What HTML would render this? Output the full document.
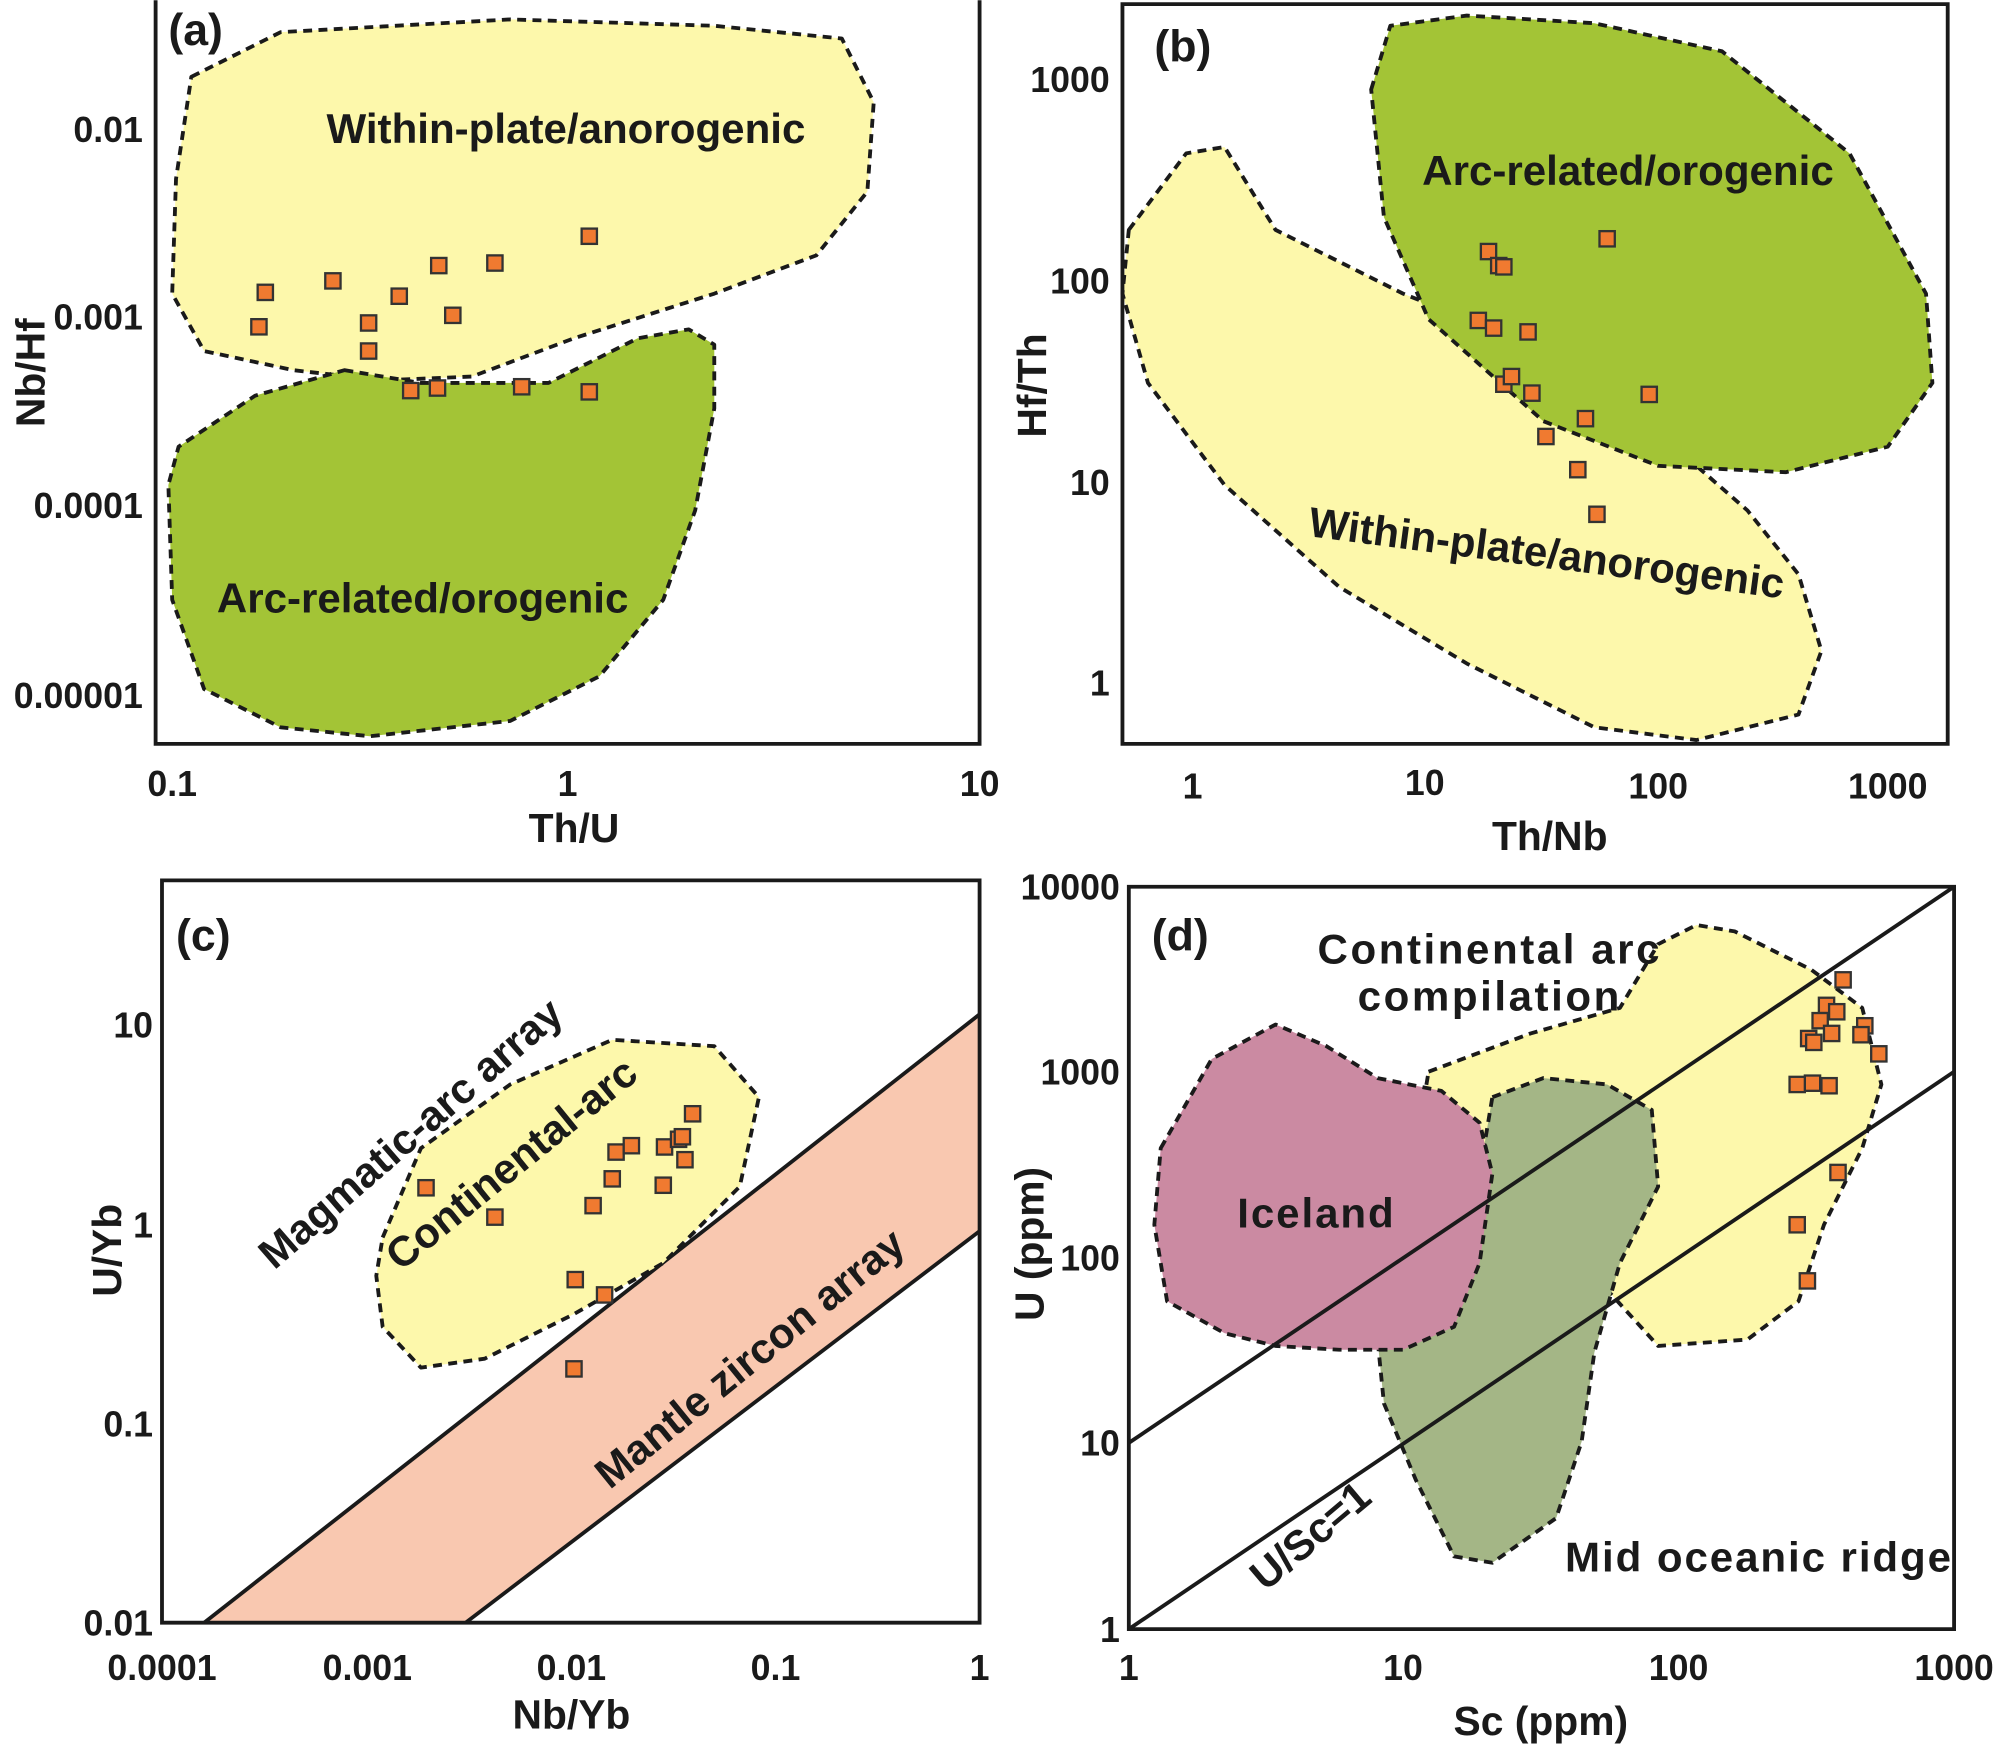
<!DOCTYPE html>
<html><head><meta charset="utf-8"><style>
html,body{margin:0;padding:0;background:#fff}
svg{display:block}
text{font-family:"Liberation Sans",Arial,sans-serif;font-weight:bold;fill:#1a1a1a}
.ax{fill:none;stroke:#1a1a1a;stroke-width:3}
.dash{stroke:#1a1a1a;stroke-width:3;stroke-dasharray:7,5;stroke-linejoin:round}
.m{fill:#f07a30;stroke:#333;stroke-width:1.8}
.t{font-size:28px}
.l{font-size:33px}
.lab{font-size:32px}
</style></head><body>
<svg width="2000" height="1748" viewBox="0 0 1568 1370" xmlns="http://www.w3.org/2000/svg">
<!-- Panel a -->
<polygon class="dash" fill="#fdf8ab" points="150,60 220,25 400,15 560,20 660,30 685,80 680,150 640,200 560,230 450,265 370,295 300,298 230,290 160,275 135,230 138,140"/>
<polygon class="dash" fill="#a3c436" points="270,290 330,300 430,300 500,265 540,258 560,270 560,320 545,400 520,470 470,530 400,565 290,577 220,570 160,540 135,470 132,380 140,350 200,310"/>
<path class="ax" d="M122,0 V583 H768 V0"/>
<text x="256" y="112" class="l">Within-plate/anorogenic</text>
<text x="170" y="480" class="l">Arc-related/orogenic</text>
<text x="132" y="35" class="lab" style="font-size:35px">(a)</text>
<g class="t" text-anchor="end"><text x="112" y="111">0.01</text><text x="112" y="258">0.001</text><text x="112" y="406">0.0001</text><text x="112" y="555">0.00001</text></g>
<g class="t" text-anchor="middle"><text x="135" y="624">0.1</text><text x="445" y="624">1</text><text x="768" y="624">10</text></g>
<text x="450" y="660" class="lab" text-anchor="middle">Th/U</text>
<text transform="translate(35,292) rotate(-90)" class="lab" text-anchor="middle">Nb/Hf</text>
<g><rect class="m" x="197" y="250" width="12" height="12"/><rect class="m" x="202" y="223" width="12" height="12"/><rect class="m" x="255" y="214" width="12" height="12"/><rect class="m" x="283" y="247" width="12" height="12"/><rect class="m" x="283" y="269" width="12" height="12"/><rect class="m" x="307" y="226" width="12" height="12"/><rect class="m" x="338" y="202" width="12" height="12"/><rect class="m" x="349" y="241" width="12" height="12"/><rect class="m" x="382" y="200" width="12" height="12"/><rect class="m" x="456" y="179" width="12" height="12"/><rect class="m" x="316" y="300" width="12" height="12"/><rect class="m" x="337" y="298" width="12" height="12"/><rect class="m" x="403" y="297" width="12" height="12"/><rect class="m" x="456" y="301" width="12" height="12"/></g>
<!-- Panel b -->
<polygon class="dash" fill="#fdf8ab" points="885,180 930,120 960,115 1000,180 1100,230 1200,270 1290,330 1370,400 1410,450 1428,510 1410,560 1330,580 1250,570 1150,520 1050,460 960,380 900,300 880,230"/>
<polygon class="dash" fill="#a3c436" points="1075,70 1090,20 1150,12 1250,18 1350,40 1450,120 1510,230 1515,300 1480,350 1400,370 1300,365 1210,330 1120,250 1085,170"/>
<path class="ax" d="M880,3 V583 H1527 V3 Z"/>
<text x="1115" y="145" class="l">Arc-related/orogenic</text>
<text transform="translate(1025,420) rotate(7.5)" class="l">Within-plate/anorogenic</text>
<text x="905" y="48" class="lab" style="font-size:35px">(b)</text>
<g class="t" text-anchor="end"><text x="870" y="72">1000</text><text x="870" y="230">100</text><text x="870" y="388">10</text><text x="870" y="545">1</text></g>
<g class="t" text-anchor="middle"><text x="935" y="626">1</text><text x="1117" y="623">10</text><text x="1300" y="626">100</text><text x="1480" y="626">1000</text></g>
<text x="1215" y="666" class="lab" text-anchor="middle">Th/Nb</text>
<text transform="translate(820,302) rotate(-90)" class="lab" text-anchor="middle">Hf/Th</text>
<g><rect class="m" x="1161" y="191" width="12" height="12"/><rect class="m" x="1169" y="202" width="12" height="12"/><rect class="m" x="1173" y="203" width="12" height="12"/><rect class="m" x="1254" y="181" width="12" height="12"/><rect class="m" x="1153" y="245" width="12" height="12"/><rect class="m" x="1165" y="251" width="12" height="12"/><rect class="m" x="1192" y="254" width="12" height="12"/><rect class="m" x="1173" y="295" width="12" height="12"/><rect class="m" x="1179" y="289" width="12" height="12"/><rect class="m" x="1195" y="302" width="12" height="12"/><rect class="m" x="1287" y="303" width="12" height="12"/><rect class="m" x="1206" y="336" width="12" height="12"/><rect class="m" x="1237" y="322" width="12" height="12"/><rect class="m" x="1231" y="362" width="12" height="12"/><rect class="m" x="1246" y="397" width="12" height="12"/></g>
<!-- Panel c -->
<polygon fill="#f9c8b0" points="160,1272 768,795 768,965 365,1272"/>
<line x1="160" y1="1272" x2="768" y2="795" stroke="#1a1a1a" stroke-width="3"/>
<line x1="365" y1="1272" x2="768" y2="965" stroke="#1a1a1a" stroke-width="3"/>
<polygon class="dash" fill="#fdf8ab" points="300,970 330,900 400,850 480,815 560,820 595,860 580,930 520,990 450,1030 380,1065 330,1072 300,1040 295,1000"/>
<path class="ax" d="M127,690 V1272 H768 V690 Z"/>
<text transform="translate(215,996) rotate(-41)" class="l">Magmatic-arc array</text>
<text transform="translate(314,997) rotate(-39)" class="l">Continental-arc</text>
<text transform="translate(478,1168) rotate(-39)" class="l">Mantle zircon array</text>
<text x="138" y="745" class="lab" style="font-size:35px">(c)</text>
<g class="t" text-anchor="end"><text x="120" y="813">10</text><text x="120" y="970">1</text><text x="120" y="1126">0.1</text><text x="120" y="1282">0.01</text></g>
<g class="t" text-anchor="middle"><text x="127" y="1317">0.0001</text><text x="288" y="1317">0.001</text><text x="448" y="1317">0.01</text><text x="608" y="1317">0.1</text><text x="768" y="1317">1</text></g>
<text x="448" y="1355" class="lab" text-anchor="middle">Nb/Yb</text>
<text transform="translate(95,980) rotate(-90)" class="lab" text-anchor="middle">U/Yb</text>
<g><rect class="m" x="328" y="925" width="12" height="12"/><rect class="m" x="382" y="948" width="12" height="12"/><rect class="m" x="459" y="939" width="12" height="12"/><rect class="m" x="474" y="918" width="12" height="12"/><rect class="m" x="477" y="897" width="12" height="12"/><rect class="m" x="489" y="892" width="12" height="12"/><rect class="m" x="515" y="893" width="12" height="12"/><rect class="m" x="526" y="887" width="12" height="12"/><rect class="m" x="537" y="867" width="12" height="12"/><rect class="m" x="529" y="885" width="12" height="12"/><rect class="m" x="531" y="903" width="12" height="12"/><rect class="m" x="514" y="923" width="12" height="12"/><rect class="m" x="445" y="997" width="12" height="12"/><rect class="m" x="468" y="1009" width="12" height="12"/><rect class="m" x="444" y="1067" width="12" height="12"/></g>
<!-- Panel d -->
<polygon class="dash" fill="#fdf8ab" points="1120,840 1200,810 1270,790 1300,740 1330,725 1360,730 1420,760 1460,790 1475,850 1460,900 1430,960 1410,1020 1370,1050 1300,1055 1250,1000 1200,950 1150,900 1115,870"/>
<polygon class="dash" fill="#a4b686" points="1170,860 1210,845 1260,850 1295,870 1300,930 1270,990 1250,1060 1240,1130 1220,1190 1170,1225 1140,1220 1110,1160 1085,1100 1080,1050 1085,990 1110,950 1160,920"/>
<polygon class="dash" fill="#cb8aa2" points="910,900 950,830 1000,803 1040,820 1080,845 1130,855 1160,880 1170,920 1160,990 1140,1040 1100,1058 1050,1058 1000,1055 960,1045 915,1020 905,960"/>
<line x1="885" y1="1131" x2="1532" y2="695" stroke="#1a1a1a" stroke-width="3"/>
<line x1="885" y1="1277" x2="1532" y2="840" stroke="#1a1a1a" stroke-width="3"/>
<path class="ax" d="M885,695 V1277 H1532 V695 Z"/>
<text x="1168" y="755" class="l" text-anchor="middle" letter-spacing="2">Continental arc</text>
<text x="1168" y="792" class="l" text-anchor="middle" letter-spacing="2">compilation</text>
<text x="970" y="962" class="l" letter-spacing="1.5">Iceland</text>
<text x="1227" y="1232" class="l" letter-spacing="1.5">Mid oceanic ridge</text>
<text transform="translate(992,1248) rotate(-40)" class="l">U/Sc=1</text>
<text x="903" y="745" class="lab" style="font-size:35px">(d)</text>
<g class="t" text-anchor="end"><text x="878" y="705">10000</text><text x="878" y="850">1000</text><text x="878" y="996">100</text><text x="878" y="1141">10</text><text x="878" y="1287">1</text></g>
<g class="t" text-anchor="middle"><text x="885" y="1317">1</text><text x="1100" y="1317">10</text><text x="1316" y="1317">100</text><text x="1532" y="1317">1000</text></g>
<text x="1208" y="1360" class="lab" text-anchor="middle">Sc (ppm)</text>
<text transform="translate(818,975) rotate(-90)" class="lab" text-anchor="middle">U (ppm)</text>
<g><rect class="m" x="1439" y="762" width="12" height="12"/><rect class="m" x="1426" y="782" width="12" height="12"/><rect class="m" x="1434" y="787" width="12" height="12"/><rect class="m" x="1421" y="794" width="12" height="12"/><rect class="m" x="1412" y="808" width="12" height="12"/><rect class="m" x="1416" y="811" width="12" height="12"/><rect class="m" x="1430" y="804" width="12" height="12"/><rect class="m" x="1456" y="798" width="12" height="12"/><rect class="m" x="1453" y="805" width="12" height="12"/><rect class="m" x="1415" y="843" width="12" height="12"/><rect class="m" x="1403" y="844" width="12" height="12"/><rect class="m" x="1428" y="845" width="12" height="12"/><rect class="m" x="1467" y="820" width="12" height="12"/><rect class="m" x="1435" y="913" width="12" height="12"/><rect class="m" x="1403" y="954" width="12" height="12"/><rect class="m" x="1411" y="998" width="12" height="12"/></g>
</svg>
</body></html>
